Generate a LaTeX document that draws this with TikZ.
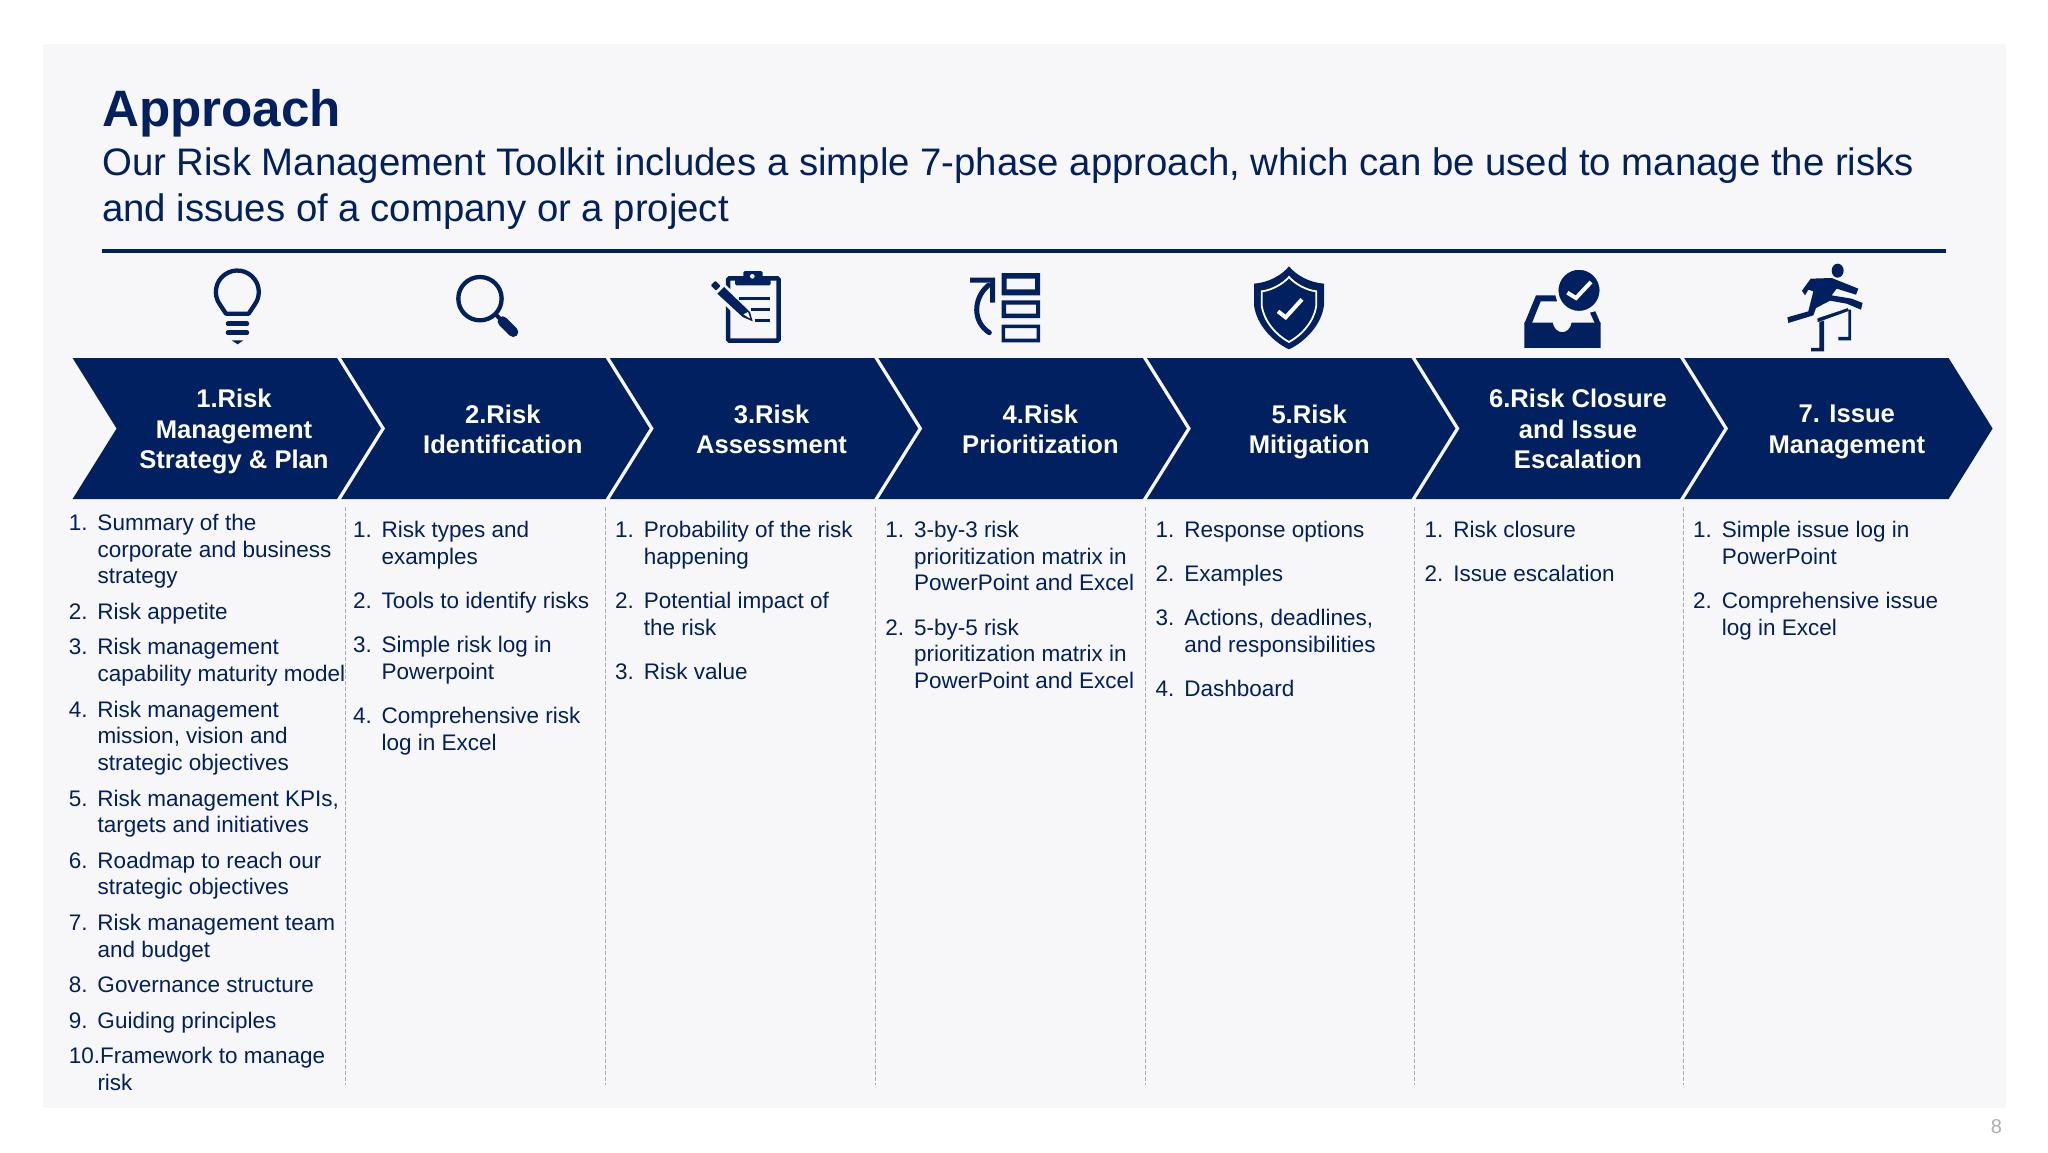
\documentclass[tikz,border=0pt]{standalone}
\usepackage{fontspec}
\setmainfont{Liberation Sans}
\definecolor{Navy}{HTML}{002060}
\definecolor{PanelBg}{HTML}{F7F7F9}
\definecolor{DashGray}{HTML}{ABABAB}
\newcommand{\Nm}[1]{\makebox[28.6pt][l]{#1}}
\tikzset{
    Chevron/.style={fill=Navy},
    ChevronText/.style={text=white, align=center, inner sep=0pt, font=\fontsize{25.6}{30.5}\selectfont\bfseries, execute at begin node=\strut, execute at end node=\strut},
    ListText/.style={text=Navy, align=left, anchor=north west, inner sep=0pt, font=\fontsize{22.5}{26.7}\selectfont},
    Split/.style={draw=DashGray, line width=1pt, dash pattern=on 3.5pt off 2.5pt},
    Icon/.style 2 args={shift={(#1,#2)},x=0.3333pt,y=-0.3333pt},
    Halo/.style={draw=PanelBg}
}
\begin{document}
\begin{tikzpicture}[x=1pt,y=-1pt]
    \useasboundingbox (0,0) rectangle (2048,1152);
    \fill[PanelBg] (42.5,44) rectangle (2006,1108);

    \node[text=Navy, anchor=base west, inner sep=0pt, font=\fontsize{51.2}{60}\selectfont\bfseries] (title) at (102,126) {Approach};
    \node[text=Navy, anchor=north west, align=left, inner sep=0pt, font=\fontsize{38.35}{46}\selectfont] (subtitle) at (102,148)
        {Our Risk Management Toolkit includes a simple 7-phase approach, which can be used to manage the risks\\and issues of a company or a project};
    \coordinate (ruleL) at (102,250.5);
    \coordinate (ruleR) at (1946,250.5);
    \draw[Navy, line width=4pt] (ruleL) -- (ruleR);

    \foreach \n/\lbl in {1/{1.Risk\\Management\\Strategy \& Plan},2/{2.Risk\\Identification},3/{3.Risk\\Assessment},4/{4.Risk\\Prioritization},5/{5.Risk\\Mitigation},6/{6.Risk Closure\\and Issue\\Escalation},7/{7. Issue\\Management}}{
        \pgfmathsetmacro{\xl}{72.6+268.6*(\n-1)}
        \pgfmathsetmacro{\xr}{\xl+264.4}
        \fill[Chevron] (\xl,358) -- (\xr,358) -- (\xr+44,428.5) -- (\xr,499) -- (\xl,499) -- (\xl+44,428.5) -- cycle;
        \node[ChevronText] (phase\n) at (234+268.8*\n-268.8,433.7) {\lbl};
    }

    \foreach \x in {345.4,605.6,875,1145,1414.5,1683.5}
        \draw[Split] (\x,507) -- (\x,1085);

    \node[ListText] (list1) at (68.7,514) {\Nm{1.}Summary of the\\\Nm{}corporate and business\\\Nm{}strategy\\[8.8pt]\Nm{2.}Risk appetite\\[8.8pt]\Nm{3.}Risk management\\\Nm{}capability maturity model\\[8.8pt]\Nm{4.}Risk management\\\Nm{}mission, vision and\\\Nm{}strategic objectives\\[8.8pt]\Nm{5.}Risk management KPIs,\\\Nm{}targets and initiatives\\[8.8pt]\Nm{6.}Roadmap to reach our\\\Nm{}strategic objectives\\[8.8pt]\Nm{7.}Risk management team\\\Nm{}and budget\\[8.8pt]\Nm{8.}Governance structure\\[8.8pt]\Nm{9.}Guiding principles\\[8.8pt]10.Framework to manage\\\Nm{}risk};
    \node[ListText] (list2) at (352.8,521) {\Nm{1.}Risk types and\\\Nm{}examples\\[17.6pt]\Nm{2.}Tools to identify risks\\[17.6pt]\Nm{3.}Simple risk log in\\\Nm{}Powerpoint\\[17.6pt]\Nm{4.}Comprehensive risk\\\Nm{}log in Excel};
    \node[ListText] (list3) at (615,521) {\Nm{1.}Probability of the risk\\\Nm{}happening\\[17.6pt]\Nm{2.}Potential impact of\\\Nm{}the risk\\[17.6pt]\Nm{3.}Risk value};
    \node[ListText] (list4) at (885.2,521) {\Nm{1.}3-by-3 risk\\\Nm{}prioritization matrix in\\\Nm{}PowerPoint and Excel\\[17.6pt]\Nm{2.}5-by-5 risk\\\Nm{}prioritization matrix in\\\Nm{}PowerPoint and Excel};
    \node[ListText] (list5) at (1155.5,521) {\Nm{1.}Response options\\[17.3pt]\Nm{2.}Examples\\[17.3pt]\Nm{3.}Actions, deadlines,\\\Nm{}and responsibilities\\[17.3pt]\Nm{4.}Dashboard};
    \node[ListText] (list6) at (1424.5,521) {\Nm{1.}Risk closure\\[17.6pt]\Nm{2.}Issue escalation};
    \node[ListText] (list7) at (1693,521) {\Nm{1.}Simple issue log in\\\Nm{}PowerPoint\\[17.6pt]\Nm{2.}Comprehensive issue\\\Nm{}log in Excel};

    \node[text=black!32, inner sep=0pt, font=\fontsize{20}{24}\selectfont] (pageno) at (1996.5,1127) {8};

    \begin{scope}[Icon={190}{262}]
        \draw[Navy, line width=4.3pt, line join=round] (108,155) -- (90,128) arc[start angle=143.8, end angle=396.2, radius=64.4] -- (176,155) -- cycle;
        \draw[Navy, line width=4.5pt, line cap=round] (114,185) -- (171,185);
        \draw[Navy, line width=4.5pt, line cap=round] (114,212) -- (171,212);
        \fill[Navy] (125,235) -- (160,235) -- (143,247) -- cycle;
        \draw[Navy, line width=4.3pt] (870,110) circle[radius=65];
        \draw[Navy, line width=4pt] (916,156) -- (935,175);
        \draw[Navy, line width=10pt, line cap=round] (938,178) -- (970,210);
    \end{scope}

    \begin{scope}[Icon={700}{262}]
        \draw[Navy, line width=4.5pt, rounded corners=1.5pt] (84,49) rectangle (236,236);
        \fill[Navy, rounded corners=1.5pt] (105,70) -- (105,50) -- (130,50) -- (130,27) -- (188,27) -- (188,50) -- (212,50) -- (212,70) -- cycle;
        \fill[PanelBg] (157,43) circle[radius=7];
        \draw[Halo, line width=15pt] (55,78) -- (150,172);
        \draw[Navy, line width=3pt] (118,108) -- (210,108);
        \draw[Navy, line width=3pt] (152,142) -- (210,142);
        \draw[Navy, line width=3pt] (165,176) -- (210,176);
        \fill[Navy, rounded corners=1pt] (32,70) -- (46,56) -- (62,72) -- (48,86) -- cycle;
        \fill[Navy] (52,95) -- (72,75) -- (150,150) -- (158,178) -- (128,165) -- cycle;
        \fill[PanelBg] (130,157) -- (144,150) -- (151,170) -- cycle;
    \end{scope}

    \begin{scope}[Icon={960}{262}]
        \fill[Navy, even odd rule] (125,33) rectangle (240,100) (140,50) rectangle (225,82);
        \fill[Navy, even odd rule] (125,115) rectangle (240,168) (138,128) rectangle (228,155);
        \fill[Navy, even odd rule] (125,188) rectangle (240,241) (135,198) rectangle (230,230);
        \fill[Navy] (30,47) -- (105,47) -- (105,122) -- (90,122) -- (90,62) -- (30,62) -- cycle;
        \draw[Navy, line width=5pt, line cap=round] (85,70) .. controls (38,110) and (38,180) .. (88,212);
    \end{scope}

    \begin{scope}[Icon={1240}{262}]
        \fill[Navy] (147,13) .. controls (125,40) and (85,62) .. (42,65) -- (42,130) .. controls (50,190) and (100,240) .. (147,262) .. controls (194,240) and (244,190) .. (252,130) -- (252,65) .. controls (209,62) and (169,40) .. (147,13) -- cycle;
        \draw[white, line width=1.8pt] (147,45) .. controls (130,65) and (95,85) .. (65,88) -- (65,130) .. controls (72,180) and (110,220) .. (147,240) .. controls (184,220) and (222,180) .. (229,130) -- (229,88) .. controls (199,85) and (164,65) .. (147,45) -- cycle;
        \draw[white, line width=4pt, line join=miter] (114,148) -- (137,166) -- (186,112);
    \end{scope}

    \begin{scope}[Icon={1510}{262}]
        \fill[Navy] (43,185) -- (78,100) -- (136,100) -- (141,118) -- (92,118) -- (65,185) -- cycle;
        \fill[Navy] (240,152) -- (256,148) -- (272,185) -- (255,185) -- cycle;
        \fill[Navy] (43,182) -- (128,182) .. controls (135,220) and (178,220) .. (185,182) -- (272,182) -- (272,258) -- (43,258) -- cycle;
        \filldraw[fill=Navy, Halo, line width=1.5pt] (207,85) circle[radius=64];
        \draw[white, line width=4pt] (172,92) -- (198,108) -- (243,60);
    \end{scope}

    \begin{scope}[Icon={1780}{258}]
        \fill[Navy] (173,38) ellipse[x radius=18, y radius=21];
        \fill[Navy] (66,98) -- (92,62) -- (155,60) -- (235,92) -- (228,110) -- (170,92) -- (155,112) -- (215,122) -- (248,135) -- (243,155) -- (200,137) -- (150,128) -- (108,150) -- (100,172) -- (25,195) -- (22,178) -- (85,160) -- (100,100) -- (85,95) -- (75,112) -- cycle;
        \filldraw[fill=Navy, Halo, line width=1pt] (110,180) -- (205,148) -- (208,160) -- (112,195) -- cycle;
        \fill[Navy] (118,192) -- (132,188) -- (132,280) -- (93,280) -- (93,270) -- (118,270) -- cycle;
        \fill[Navy] (205,155) -- (213,155) -- (213,247) -- (175,247) -- (175,237) -- (205,237) -- cycle;
    \end{scope}
\end{tikzpicture}
\end{document}
